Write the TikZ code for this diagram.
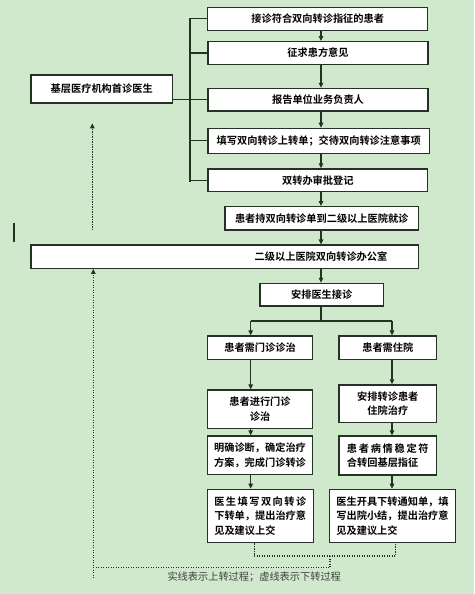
\documentclass[tikz,border=0pt]{standalone}
\usepackage{fontspec}
\setmainfont{Noto Sans CJK SC}[BoldFont={Noto Sans CJK SC Bold}]
\usetikzlibrary{arrows.meta}
\definecolor{bg}{RGB}{208,232,204}
\definecolor{lncol}{RGB}{35,50,35}
\begin{document}
\begin{tikzpicture}[x=1pt,y=-1pt,
  box/.style={draw=lncol, line width=1.2pt, fill=white, inner sep=0pt, font=\fontsize{10.2}{14.5}\selectfont\bfseries},
  boxtext/.style={inner sep=0pt, font=\fontsize{10.2}{14.5}\selectfont\bfseries},
  conn/.style={draw=lncol, line width=1.2pt},
  arr/.style={draw=lncol, line width=1.2pt, -{Triangle[length=5pt,width=4.5pt]}},
  dot/.style={draw=lncol, line width=1.2pt, dash pattern=on 1.2pt off 1.3pt},
  dotarr/.style={dot, -{Triangle[length=5pt,width=4.5pt]}}]
\fill[bg] (0,0) rectangle (474,594);
\useasboundingbox (0,0) rectangle (474,594);

\node[box, minimum width=220pt, minimum height=23pt] (b1) at (317.7,18.8) {接诊符合双向转诊指征的患者};
\node[box, minimum width=220pt, minimum height=22.6pt] (b2) at (318,53) {征求患方意见};
\node[box, minimum width=220pt, minimum height=22.7pt] (b3) at (318,99.7) {报告单位业务负责人};
\node[box, minimum width=221.3pt, minimum height=25pt] (b4) at (318.7,140.8) {填写双向转诊上转单；交待双向转诊注意事项};
\node[box, minimum width=219.7pt, minimum height=22.7pt] (b5) at (317.8,180.3) {双转办审批登记};
\node[box, minimum width=141.3pt, minimum height=28pt] (a) at (101.7,89) {基层医疗机构首诊医生};
\node[box, minimum width=193.3pt, minimum height=23.3pt] (b6) at (321.7,218.3) {患者持双向转诊单到二级以上医院就诊};
\node[box, minimum width=387.3pt, minimum height=23.3pt] (b7) at (224.7,256.7) {};
\node[boxtext] (b7t) at (321,256.7) {二级以上医院双向转诊办公室};
\node[box, minimum width=123.3pt, minimum height=22.7pt] (b8) at (321.7,294.7) {安排医生接诊};
\node[box, minimum width=105.3pt, minimum height=23.3pt] (b9) at (260,347.7) {患者需门诊诊治};
\node[box, minimum width=97.7pt, minimum height=23.3pt] (b10) at (387.8,347.7) {患者需住院};
\node[box, minimum width=105.3pt, minimum height=38.3pt, align=center] (b11) at (260,409.2) {患者进行门诊\\诊治};
\node[box, minimum width=97.7pt, minimum height=37.7pt, align=center] (b12) at (387.8,403.8) {安排转诊患者\\住院治疗};
\node[box, minimum width=105.3pt, minimum height=38.3pt, align=center] (b13) at (260,455.2) {明确诊断，确定治疗\\方案，完成门诊转诊};
\node[box, minimum width=97.7pt, minimum height=39pt, align=left] (b14) at (387.8,455.5) {\makebox[81.7pt]{患\hfill 者\hfill 病\hfill 情\hfill 稳\hfill 定\hfill 符}\\合转回基层指征};
\node[box, minimum width=106pt, minimum height=53.4pt, align=left] (b15) at (260.3,516) {\makebox[92pt]{医\hfill 生\hfill 填\hfill 写\hfill 双\hfill 向\hfill 转\hfill 诊}\\下转单，提出治疗意\\见及建议上交};
\node[box, minimum width=126.4pt, minimum height=53.4pt, align=left] (b16) at (392.5,516) {医生开具下转通知单，填\\写出院小结，提出治疗意\\见及建议上交};

\node[inner sep=0pt, font=\fontsize{10.2}{12}\selectfont, text=black!75] (cap) at (254.2,576.7) {实线表示上转过程；虚线表示下转过程};

% main column arrows
\coordinate (mx) at (321,0);
\draw[arr] (b1.south -| mx) -- (b2.north -| mx);
\draw[arr] (b2.south -| mx) -- (b3.north -| mx);
\draw[arr] (b3.south -| mx) -- (b4.north -| mx);
\draw[arr] (b4.south -| mx) -- (b5.north -| mx);
\draw[arr] (b5.south -| mx) -- (b6.north -| mx);
\draw[arr] (b6.south -| mx) -- (b7.north -| mx);
\draw[arr] (b7.south -| mx) -- (b8.north -| mx);

% bracket
\coordinate (bt) at (190,181.7);
\draw[conn] (b1.west) -| (bt);
\draw[conn] (b2.west) -- (b2.west -| bt);
\draw[conn] (b4.west) -- (b4.west -| bt);
\draw[conn] (b5.west) -- (b5.west -| bt);
\draw[conn] (a.east |- b3.west) -- (b3.west);

% branch
\coordinate (jn) at (321,321);
\coordinate (lx) at (250.7,321);
\coordinate (rx) at (392,321);
\draw[conn] (b8.south -| mx) -- (jn);
\draw[conn] (lx) -- (rx);
\draw[arr] (lx) -- (lx |- b9.north);
\draw[arr] (rx) -- (rx |- b10.north);
\draw[arr] (b9.south -| lx) -- (b11.north -| lx);
\draw[arr] (b11.south -| lx) -- (b13.north -| lx);
\draw[arr] (b13.south -| lx) -- (b15.north -| lx);
\draw[arr] (b10.south -| rx) -- (b12.north -| rx);
\draw[arr] (b12.south -| rx) -- (b14.north -| rx);
\draw[arr] (b14.south -| rx) -- (b16.north -| rx);

% dotted return
\coordinate (d1) at (254.3,556);
\coordinate (d2) at (395.7,556);
\coordinate (d3) at (330,556);
\coordinate (d4) at (330,567.7);
\coordinate (d5) at (93.3,567.7);
\coordinate (d6) at (93.3,578.3);
\draw[dot] (b15.south -| d1) -- (d1) -- (d2) -- (b16.south -| d2);
\draw[dot] (d3) -- (d4) -- (d5);
\draw[dotarr] (d6) -- (b7.south -| d6);
\coordinate (u1) at (92.3,230);
\coordinate (u2) at (92.3,123.3);
\draw[dotarr] (u1) -- (u2);

% stray mark
\coordinate (s1) at (14,223.3);
\coordinate (s2) at (14,242.3);
\draw[conn, line width=1.4pt] (s1) -- (s2);
\end{tikzpicture}
\end{document}
